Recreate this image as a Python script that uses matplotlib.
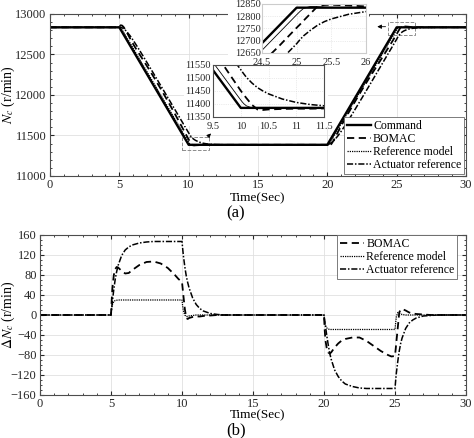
import matplotlib
matplotlib.use("Agg")
import matplotlib.pyplot as plt
import numpy as np
from matplotlib.patches import Rectangle
from matplotlib.ticker import MultipleLocator, AutoMinorLocator

plt.rcParams['font.family'] = ['Liberation Serif', 'DejaVu Serif']
plt.rcParams['mathtext.fontset'] = 'stix'

# time samples (s)
time = [0, 5, 5.05, 5.1, 5.2, 5.3, 5.4, 5.5, 5.75, 6.0, 6.25, 6.5, 7.0, 7.5, 8.0, 8.5, 9.0, 9.5, 9.75,
        10.0, 10.05, 10.1, 10.2, 10.3, 10.4, 10.5, 10.75, 11.0, 11.25, 11.5, 12.0, 12.5, 13.0,
        20.0, 20.05, 20.1, 20.2, 20.3, 20.4, 20.5, 20.75, 21.0, 21.25, 21.5, 22.0, 22.5, 23.0, 23.5, 24.0, 24.5, 24.75,
        25.0, 25.05, 25.1, 25.2, 25.3, 25.4, 25.5, 25.75, 26.0, 26.25, 26.5, 27.0, 27.5, 28.0, 30.0]

# speed command (r/min)
command = [12835, 12835, 12820.5, 12806, 12777, 12748, 12719, 12690, 12617.5, 12545, 12472.5, 12400,
           12255, 12110, 11965, 11820, 11675, 11530, 11457.5,
           11385, 11385, 11385, 11385, 11385, 11385, 11385, 11385, 11385, 11385, 11385, 11385, 11385, 11385,
           11385, 11399.5, 11414, 11443, 11472, 11501, 11530, 11602.5, 11675, 11747.5, 11820, 11965,
           12110, 12255, 12400, 12545, 12690, 12762.5,
           12835, 12835, 12835, 12835, 12835, 12835, 12835, 12835, 12835, 12835, 12835, 12835, 12835, 12835, 12835]

# deviations from command (r/min)
d_bomac = [0, 0, 30, 55, 80, 92, 96, 95, 88, 83, 84, 90, 100, 106, 107, 103, 94, 80, 72,
           66, 52, 38, 12, -6, -8, -6, -4, -3, -3, -2, -1, 0, 0,
           0, -30, -50, -68, -75, -77, -75, -65, -57, -51, -48, -45, -45, -52, -62, -72, -80, -83,
           -82, -68, -53, -24, 5, 11, 12, 9, 5, 3, 2, 1, 0, 0, 0]
d_ref = [0, 0, 14, 21, 27, 29, 29.5, 30, 30, 30, 30, 30, 30, 30, 30, 30, 30, 30, 30,
         30, 17, 8, 0, -3, -3, -2, -1, 0, 0, 0, 0, 0, 0,
         0, -14, -21, -26, -28, -29, -29, -29, -29, -29, -29, -29, -29, -29, -29, -29, -29, -29,
         -29, -15, -3, 5, 4, 2, 1, 0, 0, 0, 0, 0, 0, 0, 0]
d_act = [0, 0, 14, 28, 52, 72, 87, 99, 119, 130, 136, 140, 144, 146, 147, 147, 147, 147, 147,
         147, 132, 118, 96, 78, 65, 54, 34, 21, 13, 8, 3, 1, 0,
         0, -12, -22, -42, -60, -76, -88, -110, -123, -132, -138, -143, -146, -147, -147, -147, -147, -147,
         -147, -130, -115, -92, -72, -57, -46, -27, -16, -10, -6, -2, -1, 0, 0]

t = np.array(time)
cmd = np.array(command)
n_bomac = cmd + np.array(d_bomac)
n_ref = cmd + np.array(d_ref)
n_act = cmd + np.array(d_act)

st_cmd = dict(color='k', lw=1.7, ls='-')
st_bom = dict(color='k', lw=1.3, dashes=(4, 2.5))
st_ref = dict(color='k', lw=0.9, dashes=(1, 0.8))
st_act = dict(color='k', lw=1.1, dashes=(4, 1.2, 1, 1.2))


def style_axes(ax, fs=9):
    ax.tick_params(which='both', direction='in', top=True, right=True, labelsize=fs,
                   colors='0.15', pad=2.5)
    ax.tick_params(which='major', length=3)
    ax.tick_params(which='minor', length=1.5)
    for s in ax.spines.values():
        s.set_color('0.3')
        s.set_linewidth(0.8)
    ax.grid(True, color='0.88', lw=0.6)
    ax.set_axisbelow(True)


fig = plt.figure(figsize=(4.74, 4.38), dpi=100)

# ---- (a) ----
ax1 = fig.add_axes([0.1055, 0.5982, 0.8776, 0.3699])
ax1.plot(t, cmd, label='Command', **st_cmd)
ax1.plot(t, n_bomac, label='BOMAC', **st_bom)
ax1.plot(t, n_ref, label='Reference model', **st_ref)
ax1.plot(t, n_act, label='Actuator reference', **st_act)
ax1.set_xlim(0, 30)
ax1.set_ylim(11000, 13000)
ax1.xaxis.set_major_locator(MultipleLocator(5))
ax1.xaxis.set_minor_locator(AutoMinorLocator(5))
ax1.yaxis.set_major_locator(MultipleLocator(500))
ax1.yaxis.set_minor_locator(AutoMinorLocator(5))
style_axes(ax1)
ax1.set_ylabel(r'$N_c$ (r/min)', fontsize=10)
ax1.yaxis.set_label_coords(-0.079, 0.5)
leg1 = ax1.legend(loc='lower right', fontsize=8.5, handlelength=2.0, handletextpad=0.2,
                  labelspacing=0.1, borderpad=0.25, borderaxespad=0.15, fancybox=False,
                  framealpha=1, edgecolor='0.4')
leg1.get_frame().set_linewidth(0.6)

ax1.add_patch(Rectangle((9.5, 11320), 2.0, 160, fill=False, ls='--', ec='0.55', lw=0.7))
ax1.add_patch(Rectangle((24.4, 12740), 1.9, 165, fill=False, ls='--', ec='0.55', lw=0.7))
ax1.annotate('', xy=(11.75, 11550), xytext=(11.3, 11470),
             arrowprops=dict(arrowstyle='-|>', color='k', lw=0.6, mutation_scale=6))
ax1.annotate('', xy=(23.4, 12843), xytext=(24.4, 12843),
             arrowprops=dict(arrowstyle='-|>', color='k', lw=0.6, mutation_scale=6))

# white backgrounds behind the zoom insets
fig.add_artist(Rectangle((0.3882, 0.7123), 0.3038, 0.1461, transform=fig.transFigure,
                         facecolor='white', edgecolor='none', zorder=1))
fig.add_artist(Rectangle((0.481, 0.8539), 0.2975, 0.1461, transform=fig.transFigure,
                         facecolor='white', edgecolor='none', zorder=1))

# inset 1 : 9.5 - 11.5 s
in1 = fig.add_axes([0.4494, 0.7329, 0.2342, 0.1187], zorder=2)
in1.plot(t, cmd, **st_cmd)
in1.plot(t, n_bomac, **st_bom)
in1.plot(t, n_ref, color='k', lw=0.6)
in1.plot(t, n_act, **st_act)
in1.set_xlim(9.5, 11.5)
in1.set_ylim(11350, 11550)
in1.set_xticks([9.5, 10, 10.5, 11, 11.5])
in1.set_xticklabels(['9.5', '10', '10.5', '11', '11.5'])
in1.set_yticks([11350, 11400, 11450, 11500, 11550])
style_axes(in1, fs=7.5)
in1.tick_params(which='both', length=0)
in1.tick_params(axis='x', pad=3.5)
in1.tick_params(axis='y', pad=1.5)
in1.grid(True, color='0.85', lw=0.5, ls=':')

# inset 2 : 24.5 - 26 s
in2 = fig.add_axes([0.5527, 0.879, 0.2194, 0.1119], zorder=2)
in2.plot(t, cmd, **st_cmd)
in2.plot(t, n_bomac, **st_bom)
in2.plot(t, n_ref, color='k', lw=0.6)
in2.plot(t, n_act, **st_act)
in2.set_xlim(24.5, 26)
in2.set_ylim(12650, 12850)
in2.set_xticks([24.5, 25, 25.5, 26])
in2.set_xticklabels(['24.5', '25', '25.5', '26'])
in2.set_yticks([12650, 12700, 12750, 12800, 12850])
style_axes(in2, fs=7.5)
in2.tick_params(which='both', length=0)
in2.tick_params(axis='x', pad=3.5)
in2.tick_params(axis='y', pad=1)
in2.grid(True, color='0.85', lw=0.5, ls=':')
for s in in2.spines.values():
    s.set_color('0.8')

fig.text(258 / 474, 1 - 198 / 438, 'Time(Sec)', ha='center', va='center', fontsize=9.5)
fig.text(236 / 474, 1 - 213 / 438, '(a)', ha='center', va='center', fontsize=12)

# ---- (b) ----
ax2 = fig.add_axes([0.0844, 0.0982, 0.8987, 0.3653])
ax2.plot(t, d_bomac, label='BOMAC', **st_bom)
ax2.plot(t, d_ref, label='Reference model', **st_ref)
ax2.plot(t, d_act, label='Actuator reference', **st_act)
ax2.set_xlim(0, 30)
ax2.set_ylim(-160, 160)
ax2.xaxis.set_major_locator(MultipleLocator(5))
ax2.xaxis.set_minor_locator(AutoMinorLocator(5))
ax2.yaxis.set_major_locator(MultipleLocator(40))
ax2.yaxis.set_minor_locator(AutoMinorLocator(4))
style_axes(ax2)
ax2.set_ylabel(r'$\Delta N_c$ (r/min)', fontsize=10)
ax2.yaxis.set_label_coords(-0.055, 0.5)
leg2 = ax2.legend(loc='upper right', bbox_to_anchor=(0.98, 1.0), fontsize=8.5, handlelength=2.0,
                  handletextpad=0.2, labelspacing=0.1, borderpad=0.25, borderaxespad=0.0,
                  fancybox=False, framealpha=1, edgecolor='0.4')
leg2.get_frame().set_linewidth(0.6)

fig.text(258 / 474, 1 - 415 / 438, 'Time(Sec)', ha='center', va='center', fontsize=9.5)
fig.text(236 / 474, 1 - 430 / 438, '(b)', ha='center', va='center', fontsize=12)

fig.savefig('out.png', dpi=100)
